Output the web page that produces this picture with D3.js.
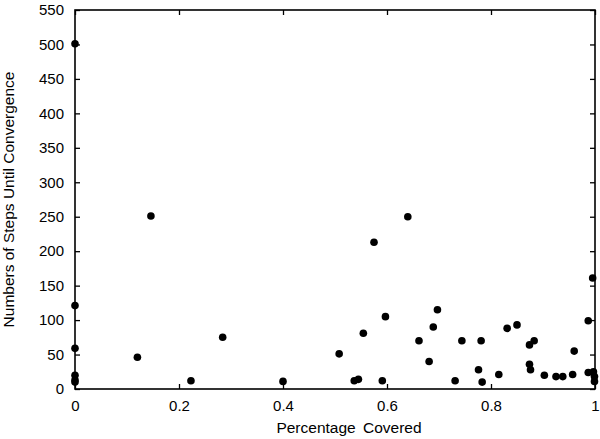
<!DOCTYPE html>
<html>
<head>
<meta charset="utf-8">
<script src="https://cdn.jsdelivr.net/npm/d3@7"></script>
<style>
  html, body { margin: 0; padding: 0; background: #fff; }
  svg { display: block; }
  text { font-family: "Liberation Sans", Arial, Helvetica, sans-serif; fill: #000; }
</style>
</head>
<body>
<svg id="chart" width="600" height="439"></svg>
<script>
// Data
const coverage = [
  0, 0, 0, 0, 0, 0,
  0.120, 0.146, 0.223, 0.284, 0.400,
  0.508, 0.537, 0.545, 0.5545, 0.575, 0.591, 0.597, 0.640,
  0.6615, 0.681, 0.689, 0.697, 0.731, 0.744,
  0.776, 0.781, 0.783, 0.815, 0.831, 0.850,
  0.874, 0.874, 0.876, 0.883, 0.9026, 0.925, 0.938,
  0.957, 0.960, 0.987, 0.987, 0.9955, 0.997, 0.999, 0.999
];
const steps = [
  501, 121, 59, 20, 13, 10,
  46, 251, 12, 75, 11,
  51, 12, 14, 81, 213, 12, 105, 250,
  70, 40, 90, 115, 12, 70,
  28, 70, 10, 21, 88, 93,
  64, 36, 28, 70, 20, 18, 18,
  21, 55, 99, 24, 161, 25, 18, 11
];
const xTicks = [0, 0.2, 0.4, 0.6, 0.8, 1];
const yTicks = [0, 50, 100, 150, 200, 250, 300, 350, 400, 450, 500, 550];
const xTitle = "Percentage Covered";
const yTitle = "Numbers of Steps Until Convergence";

const svg = d3.select("#chart");
const mLeft = 75, mRight = 595, mTop = 10, mBottom = 389;

const x = d3.scaleLinear().domain([0, 1]).range([mLeft, mRight]);
const y = d3.scaleLinear().domain([0, 550]).range([mBottom, mTop]);

const tickLen = 5;
const fmtX = d => d === 0 ? "0" : d === 1 ? "1" : d3.format(".1f")(d);

const gB = svg.append("g").attr("transform", `translate(0,${mBottom})`)
  .call(d3.axisBottom(x).tickValues(xTicks).tickFormat(fmtX).tickSizeInner(-tickLen).tickSizeOuter(0).tickPadding(11));
const gT = svg.append("g").attr("transform", `translate(0,${mTop})`)
  .call(d3.axisTop(x).tickValues(xTicks).tickFormat("").tickSizeInner(-tickLen).tickSizeOuter(0));
const gL = svg.append("g").attr("transform", `translate(${mLeft},0)`)
  .call(d3.axisLeft(y).tickValues(yTicks).tickSizeInner(-tickLen).tickSizeOuter(0).tickPadding(11));
const gR = svg.append("g").attr("transform", `translate(${mRight},0)`)
  .call(d3.axisRight(y).tickValues(yTicks).tickFormat("").tickSizeInner(-tickLen).tickSizeOuter(0));

[gB, gT, gL, gR].forEach(g => {
  g.select(".domain").remove();
  g.selectAll(".tick line").attr("stroke", "#000").attr("stroke-width", 1.3);
  g.selectAll("text").attr("font-size", 15).attr("font-family", "Liberation Sans, Arial, sans-serif").attr("fill", "#000");
});

svg.append("rect")
  .attr("x", mLeft).attr("y", mTop)
  .attr("width", mRight - mLeft).attr("height", mBottom - mTop)
  .attr("fill", "none").attr("stroke", "#000").attr("stroke-width", 1.6);

svg.append("g").selectAll("circle")
  .data(coverage.map((c, i) => [c, steps[i]]))
  .join("circle")
  .attr("cx", d => x(d[0]))
  .attr("cy", d => y(d[1]))
  .attr("r", 3.8)
  .attr("fill", "#000");

svg.append("text")
  .attr("x", 349).attr("y", 433)
  .attr("text-anchor", "middle")
  .attr("font-size", 15.5)
  .attr("word-spacing", 3)
  .text(xTitle);

svg.append("text")
  .attr("transform", `translate(14,${(mTop + mBottom) / 2}) rotate(-90)`)
  .attr("text-anchor", "middle")
  .attr("font-size", 15.5)
  .text(yTitle);
</script>
</body>
</html>
